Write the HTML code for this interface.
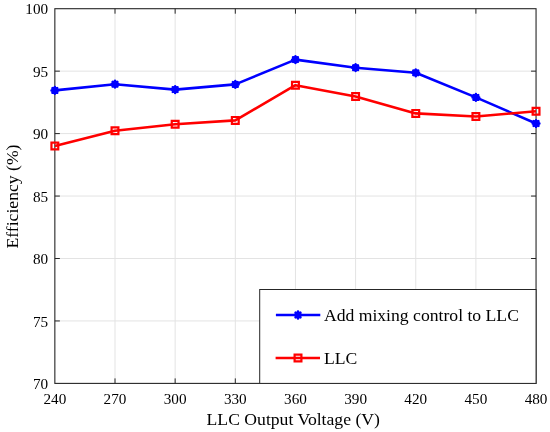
<!DOCTYPE html><html><head><meta charset="utf-8"><style>html,body{margin:0;padding:0;background:#fff;}svg{display:block;}text{font-family:"Liberation Serif","Times New Roman",serif;fill:#000;}</style></head><body>
<svg width="550" height="432" viewBox="0 0 550 432">
<rect x="0" y="0" width="550" height="432" fill="#fff"/>
<path d="M115.00 8.70V383.40M175.15 8.70V383.40M235.30 8.70V383.40M295.45 8.70V383.40M355.60 8.70V383.40M415.75 8.70V383.40M475.90 8.70V383.40M54.85 320.95H536.05M54.85 258.50H536.05M54.85 196.05H536.05M54.85 133.60H536.05M54.85 71.15H536.05" stroke="#e3e3e3" stroke-width="1" fill="none"/>
<path d="M115.00 383.40v-5M115.00 8.70v5M175.15 383.40v-5M175.15 8.70v5M235.30 383.40v-5M235.30 8.70v5M295.45 383.40v-5M295.45 8.70v5M355.60 383.40v-5M355.60 8.70v5M415.75 383.40v-5M415.75 8.70v5M475.90 383.40v-5M475.90 8.70v5M54.85 320.95h5M536.05 320.95h-5M54.85 258.50h5M536.05 258.50h-5M54.85 196.05h5M536.05 196.05h-5M54.85 133.60h5M536.05 133.60h-5M54.85 71.15h5M536.05 71.15h-5" stroke="#262626" stroke-width="1" fill="none"/>
<rect x="54.85" y="8.70" width="481.20" height="374.70" stroke="#262626" stroke-width="1.1" fill="none"/>
<text x="54.85" y="403.8" font-size="15.2" text-anchor="middle">240</text>
<text x="115.00" y="403.8" font-size="15.2" text-anchor="middle">270</text>
<text x="175.15" y="403.8" font-size="15.2" text-anchor="middle">300</text>
<text x="235.30" y="403.8" font-size="15.2" text-anchor="middle">330</text>
<text x="295.45" y="403.8" font-size="15.2" text-anchor="middle">360</text>
<text x="355.60" y="403.8" font-size="15.2" text-anchor="middle">390</text>
<text x="415.75" y="403.8" font-size="15.2" text-anchor="middle">420</text>
<text x="475.90" y="403.8" font-size="15.2" text-anchor="middle">450</text>
<text x="536.05" y="403.8" font-size="15.2" text-anchor="middle">480</text>
<text x="48.1" y="388.95" font-size="15.2" text-anchor="end">70</text>
<text x="48.1" y="326.50" font-size="15.2" text-anchor="end">75</text>
<text x="48.1" y="264.05" font-size="15.2" text-anchor="end">80</text>
<text x="48.1" y="201.60" font-size="15.2" text-anchor="end">85</text>
<text x="48.1" y="139.15" font-size="15.2" text-anchor="end">90</text>
<text x="48.1" y="76.70" font-size="15.2" text-anchor="end">95</text>
<text x="48.1" y="14.25" font-size="15.2" text-anchor="end">100</text>
<text x="293.25" y="424.9" font-size="17.65" text-anchor="middle">LLC Output Voltage (V)</text>
<text transform="translate(18.2 196.5) rotate(-90)" x="0" y="0" font-size="17.65" text-anchor="middle">Efficiency (%)</text>
<polyline points="54.85,90.40 115.00,84.20 175.15,89.60 235.30,84.40 295.45,59.60 355.60,67.70 415.75,72.80 475.90,97.40 536.05,123.50" stroke="#0000ff" stroke-width="2.6" fill="none" stroke-linejoin="round"/>
<path d="M51.45 90.40L58.25 90.40M52.45 88.00L57.25 92.80M54.85 87.00L54.85 93.80M57.25 88.00L52.45 92.80M111.60 84.20L118.40 84.20M112.60 81.80L117.40 86.60M115.00 80.80L115.00 87.60M117.40 81.80L112.60 86.60M171.75 89.60L178.55 89.60M172.75 87.20L177.55 92.00M175.15 86.20L175.15 93.00M177.55 87.20L172.75 92.00M231.90 84.40L238.70 84.40M232.90 82.00L237.70 86.80M235.30 81.00L235.30 87.80M237.70 82.00L232.90 86.80M292.05 59.60L298.85 59.60M293.05 57.20L297.85 62.00M295.45 56.20L295.45 63.00M297.85 57.20L293.05 62.00M352.20 67.70L359.00 67.70M353.20 65.30L358.00 70.10M355.60 64.30L355.60 71.10M358.00 65.30L353.20 70.10M412.35 72.80L419.15 72.80M413.35 70.40L418.15 75.20M415.75 69.40L415.75 76.20M418.15 70.40L413.35 75.20M472.50 97.40L479.30 97.40M473.50 95.00L478.30 99.80M475.90 94.00L475.90 100.80M478.30 95.00L473.50 99.80M532.65 123.50L539.45 123.50M533.65 121.10L538.45 125.90M536.05 120.10L536.05 126.90M538.45 121.10L533.65 125.90" stroke="#0000ff" stroke-width="2.4" stroke-linecap="round" fill="none"/>
<circle cx="54.85" cy="90.40" r="3.6" fill="#0000ff"/><circle cx="115.00" cy="84.20" r="3.6" fill="#0000ff"/><circle cx="175.15" cy="89.60" r="3.6" fill="#0000ff"/><circle cx="235.30" cy="84.40" r="3.6" fill="#0000ff"/><circle cx="295.45" cy="59.60" r="3.6" fill="#0000ff"/><circle cx="355.60" cy="67.70" r="3.6" fill="#0000ff"/><circle cx="415.75" cy="72.80" r="3.6" fill="#0000ff"/><circle cx="475.90" cy="97.40" r="3.6" fill="#0000ff"/><circle cx="536.05" cy="123.50" r="3.6" fill="#0000ff"/>
<polyline points="54.85,146.00 115.00,130.80 175.15,124.30 235.30,120.40 295.45,85.20 355.60,96.50 415.75,113.40 475.90,116.50 536.05,111.30" stroke="#ff0000" stroke-width="2.6" fill="none" stroke-linejoin="round"/>
<path d="M51.45 142.60h6.8v6.8h-6.8zM111.60 127.40h6.8v6.8h-6.8zM171.75 120.90h6.8v6.8h-6.8zM231.90 117.00h6.8v6.8h-6.8zM292.05 81.80h6.8v6.8h-6.8zM352.20 93.10h6.8v6.8h-6.8zM412.35 110.00h6.8v6.8h-6.8zM472.50 113.10h6.8v6.8h-6.8zM532.65 107.90h6.8v6.8h-6.8z" stroke="#ff0000" stroke-width="2.2" fill="none"/>
<rect x="259.7" y="289.5" width="276.35" height="93.90" fill="#fff" stroke="#262626" stroke-width="1"/>
<path d="M275.9 315H320.3" stroke="#0000ff" stroke-width="2.4"/>
<path d="M294.60 315.00L301.40 315.00M295.60 312.60L300.40 317.40M298.00 311.60L298.00 318.40M300.40 312.60L295.60 317.40" stroke="#0000ff" stroke-width="2.6" stroke-linecap="round" fill="none"/><circle cx="298" cy="315" r="3.2" fill="#0000ff"/>
<text x="323.9" y="320.8" font-size="17.65">Add mixing control to LLC</text>
<path d="M275.6 358H320" stroke="#ff0000" stroke-width="2.4"/>
<path d="M294.60 354.60h6.8v6.8h-6.8z" stroke="#ff0000" stroke-width="2.2" fill="none"/>
<text x="323.9" y="363.5" font-size="17.65">LLC</text>
</svg></body></html>
